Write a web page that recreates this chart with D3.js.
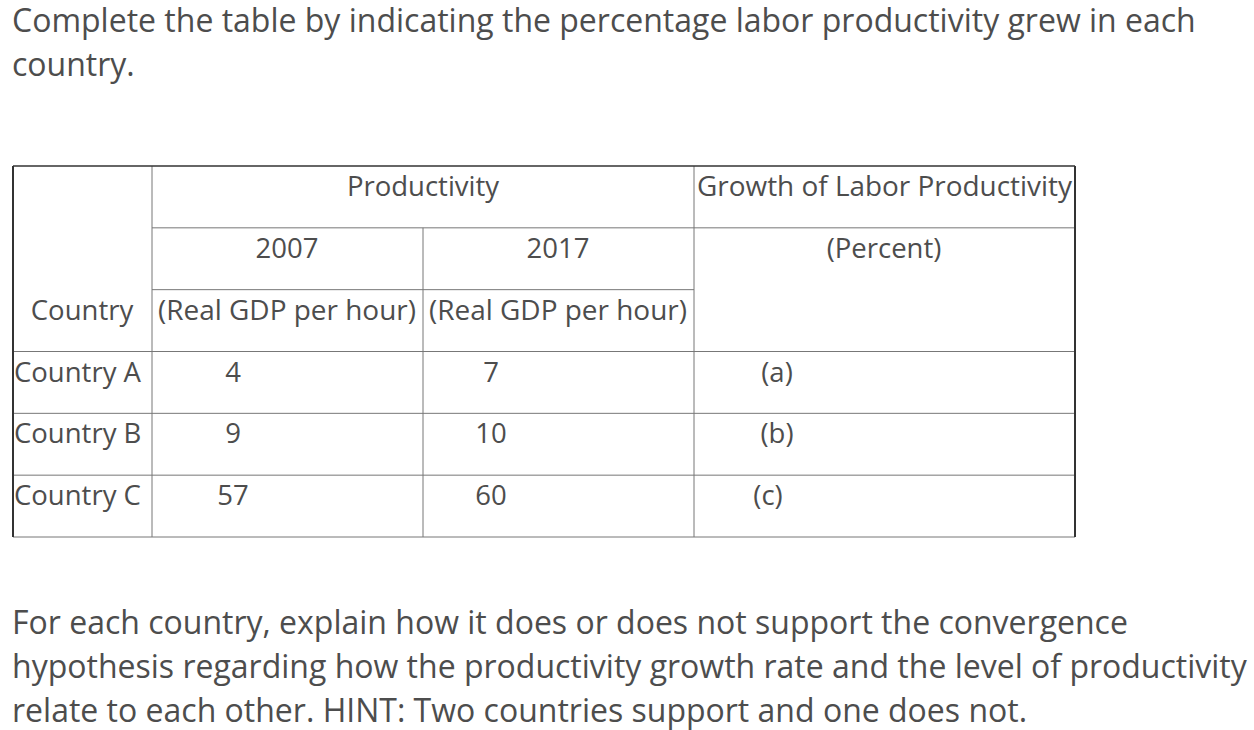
<!DOCTYPE html><html><head><meta charset="utf-8">
<script src="https://cdn.jsdelivr.net/npm/d3@7"></script>
<style>body{margin:0;background:#fff}text{font-family:"Open Sans",sans-serif;fill:#4d4d4d}</style></head><body>
<script>
const countries=["Country A","Country B","Country C"];
const prod2007=[4,9,57];
const prod2017=[7,10,60];
const growthLabels=["(a)","(b)","(c)"];
const questionTop=["Complete the table by indicating the percentage labor productivity grew in each","country."];
const questionBottom=["For each country, explain how it does or does not support the convergence","hypothesis regarding how the productivity growth rate and the level of productivity","relate to each other. HINT: Two countries support and one does not."];

const W=1254,H=730;
const svg=d3.select("body").append("svg").attr("width",W).attr("height",H);
const colX=[13,152,423,694,1075];
const y=d3.scaleLinear().domain([0,6]).range([166,537]);
const rowY=i=>y(i);
const g=svg.append("g");
const line=(x1,y1,x2,y2,c,w)=>g.append("line").attr("x1",x1).attr("y1",y1).attr("x2",x2).attr("y2",y2).attr("stroke",c).attr("stroke-width",w);
const gc="#777";
line(colX[1],rowY(1),colX[4],rowY(1),gc,1);
line(colX[1],rowY(2),colX[3],rowY(2),gc,1);
for(let i=3;i<=5;i++) line(colX[0],rowY(i),colX[4],rowY(i),gc,1);
line(colX[0],rowY(6),colX[4],rowY(6),gc,1);
line(colX[1],rowY(0),colX[1],rowY(6),gc,1);
line(colX[2],rowY(1),colX[2],rowY(6),gc,1);
line(colX[3],rowY(0),colX[3],rowY(6),gc,1);
line(colX[0],rowY(0),colX[4],rowY(0),"#333",1.5);
line(colX[0],rowY(0),colX[0],rowY(6),"#333",2);
line(colX[4],rowY(0),colX[4],rowY(6),"#333",2);

const txt=(s,x,yy,anchor,size)=>svg.append("text").attr("x",x).attr("y",yy).attr("text-anchor",anchor||"middle").attr("font-size",size||27.5).text(s);
const base=i=>rowY(i)+30;
txt("Productivity",423,base(0));
txt("Growth of Labor Productivity",697,base(0),"start").attr("textLength",375).attr("lengthAdjust","spacingAndGlyphs");
txt("2007",287,base(1));txt("2017",558,base(1));txt("(Percent)",884,base(1));
txt("Country",82,base(2));
txt("(Real GDP per hour)",287,base(2)).attr("textLength",258).attr("lengthAdjust","spacingAndGlyphs");
txt("(Real GDP per hour)",558,base(2)).attr("textLength",258).attr("lengthAdjust","spacingAndGlyphs");
countries.forEach((c,i)=>{
  txt(c,14,base(3+i),"start");
  txt(prod2007[i],233,base(3+i));
  txt(prod2017[i],491,base(3+i));
  txt(growthLabels[i],[777,777,768][i],base(3+i));
});
questionTop.forEach((s,i)=>txt(s,12,32+i*44,"start",32));
questionBottom.forEach((s,i)=>txt(s,12,634+i*44,"start",32));
</script></body></html>
